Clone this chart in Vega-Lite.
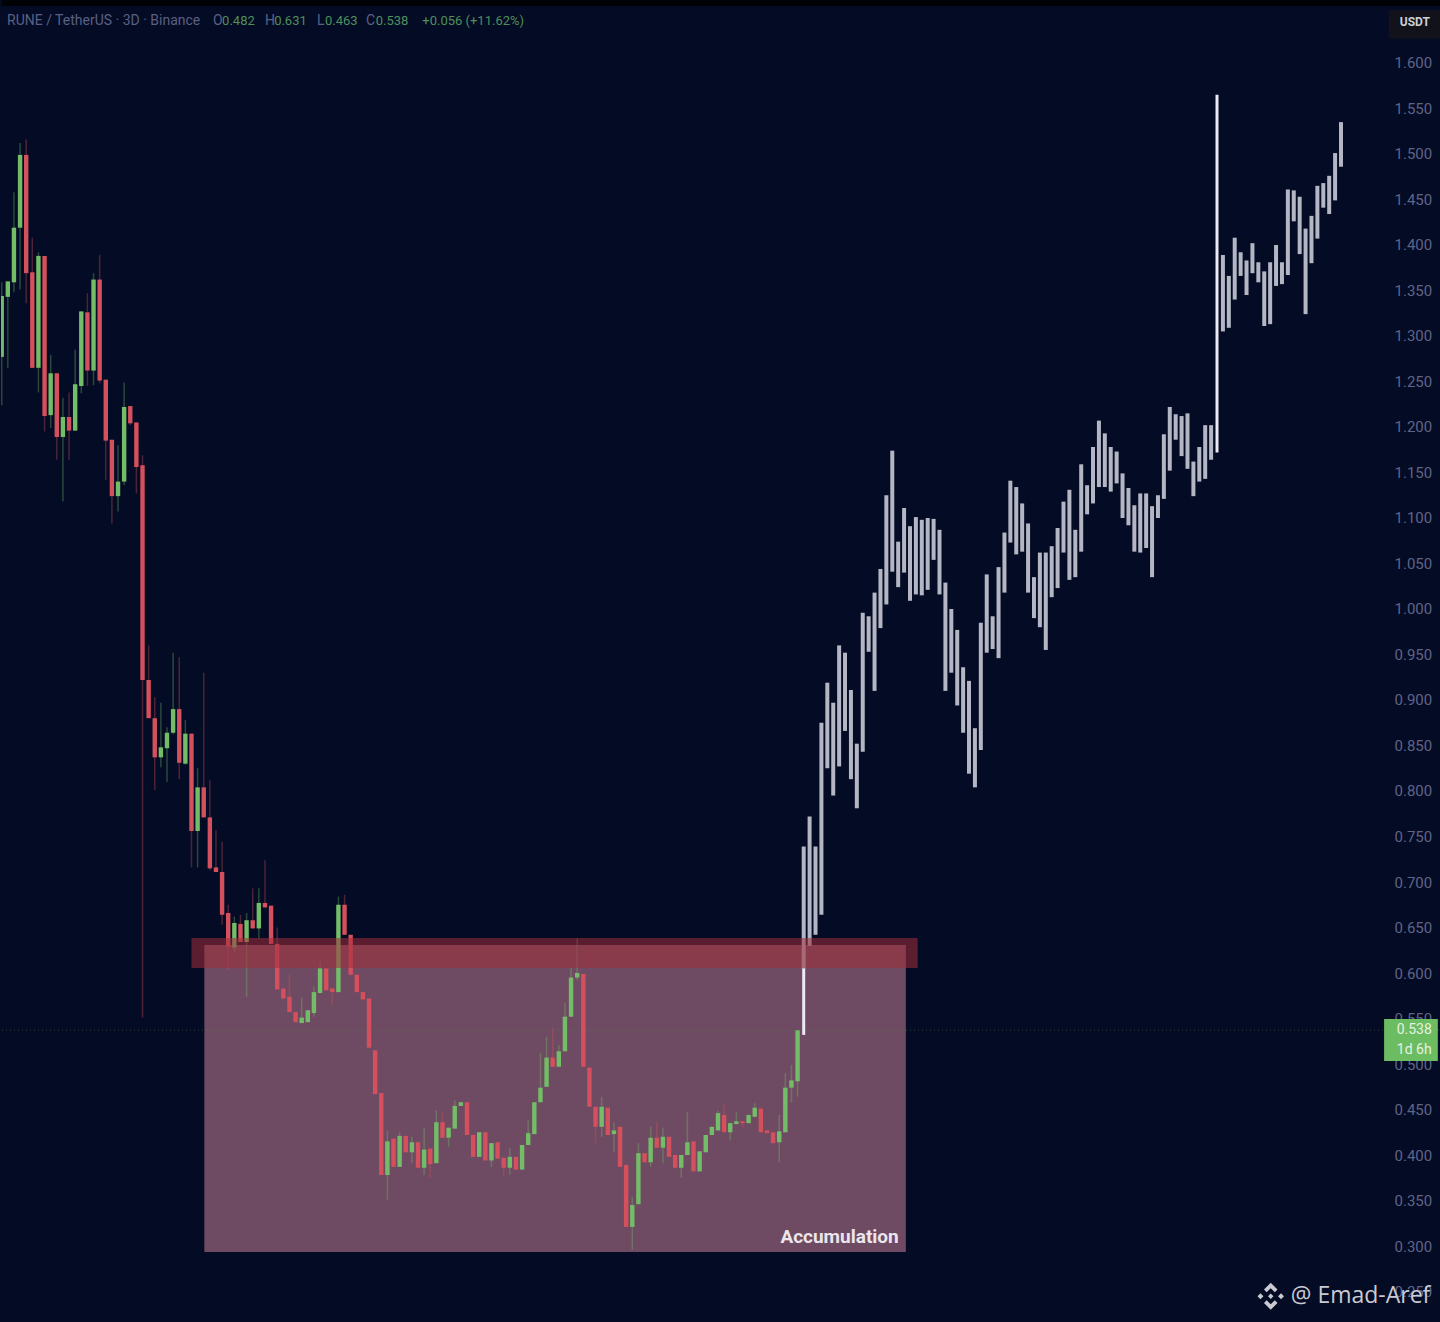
{
  "$schema": "https://vega.github.io/schema/vega-lite/v6.json",
  "width": 1440,
  "height": 1322,
  "padding": 0,
  "autosize": {"type": "fit", "contains": "padding"},
  "background": "#040b24",
  "config": {"view": {"stroke": null}},
  "resolve": {"scale": {"color": "independent", "size": "independent"}},
  "datasets": {
    "candles": [
      {"bar":0,"open":1.277,"high":1.359,"low":1.224,"close":1.344,"dir":"up"},
      {"bar":1,"open":1.343,"high":1.360,"low":1.265,"close":1.360,"dir":"up"},
      {"bar":2,"open":1.359,"high":1.458,"low":1.348,"close":1.419,"dir":"up"},
      {"bar":3,"open":1.419,"high":1.512,"low":1.351,"close":1.499,"dir":"up"},
      {"bar":4,"open":1.499,"high":1.516,"low":1.336,"close":1.369,"dir":"down"},
      {"bar":5,"open":1.370,"high":1.408,"low":1.265,"close":1.265,"dir":"down"},
      {"bar":6,"open":1.265,"high":1.392,"low":1.238,"close":1.388,"dir":"up"},
      {"bar":7,"open":1.388,"high":1.388,"low":1.195,"close":1.212,"dir":"down"},
      {"bar":8,"open":1.213,"high":1.279,"low":1.199,"close":1.259,"dir":"up"},
      {"bar":9,"open":1.259,"high":1.259,"low":1.164,"close":1.189,"dir":"down"},
      {"bar":10,"open":1.189,"high":1.232,"low":1.118,"close":1.211,"dir":"up"},
      {"bar":11,"open":1.211,"high":1.238,"low":1.164,"close":1.196,"dir":"down"},
      {"bar":12,"open":1.196,"high":1.285,"low":1.196,"close":1.247,"dir":"up"},
      {"bar":13,"open":1.245,"high":1.327,"low":1.237,"close":1.327,"dir":"up"},
      {"bar":14,"open":1.326,"high":1.347,"low":1.245,"close":1.262,"dir":"down"},
      {"bar":15,"open":1.262,"high":1.369,"low":1.246,"close":1.362,"dir":"up"},
      {"bar":16,"open":1.362,"high":1.389,"low":1.248,"close":1.251,"dir":"down"},
      {"bar":17,"open":1.252,"high":1.252,"low":1.142,"close":1.185,"dir":"down"},
      {"bar":18,"open":1.186,"high":1.186,"low":1.094,"close":1.124,"dir":"down"},
      {"bar":19,"open":1.124,"high":1.180,"low":1.107,"close":1.140,"dir":"up"},
      {"bar":20,"open":1.140,"high":1.249,"low":1.136,"close":1.222,"dir":"up"},
      {"bar":21,"open":1.223,"high":1.223,"low":1.202,"close":1.204,"dir":"down"},
      {"bar":22,"open":1.205,"high":1.205,"low":1.127,"close":1.156,"dir":"down"},
      {"bar":23,"open":1.158,"high":1.169,"low":0.551,"close":0.922,"dir":"down"},
      {"bar":24,"open":0.922,"high":0.960,"low":0.880,"close":0.880,"dir":"down"},
      {"bar":25,"open":0.880,"high":0.903,"low":0.801,"close":0.837,"dir":"down"},
      {"bar":26,"open":0.837,"high":0.897,"low":0.826,"close":0.848,"dir":"up"},
      {"bar":27,"open":0.847,"high":0.870,"low":0.810,"close":0.864,"dir":"up"},
      {"bar":28,"open":0.864,"high":0.952,"low":0.862,"close":0.890,"dir":"up"},
      {"bar":29,"open":0.890,"high":0.947,"low":0.813,"close":0.831,"dir":"down"},
      {"bar":30,"open":0.830,"high":0.878,"low":0.829,"close":0.863,"dir":"up"},
      {"bar":31,"open":0.863,"high":0.863,"low":0.716,"close":0.756,"dir":"down"},
      {"bar":32,"open":0.756,"high":0.825,"low":0.716,"close":0.804,"dir":"up"},
      {"bar":33,"open":0.804,"high":0.930,"low":0.771,"close":0.771,"dir":"down"},
      {"bar":34,"open":0.771,"high":0.812,"low":0.713,"close":0.715,"dir":"down"},
      {"bar":35,"open":0.716,"high":0.757,"low":0.711,"close":0.711,"dir":"down"},
      {"bar":36,"open":0.711,"high":0.744,"low":0.653,"close":0.664,"dir":"down"},
      {"bar":37,"open":0.666,"high":0.675,"low":0.603,"close":0.629,"dir":"down"},
      {"bar":38,"open":0.628,"high":0.662,"low":0.623,"close":0.655,"dir":"up"},
      {"bar":39,"open":0.654,"high":0.664,"low":0.634,"close":0.634,"dir":"down"},
      {"bar":40,"open":0.634,"high":0.666,"low":0.574,"close":0.658,"dir":"up"},
      {"bar":41,"open":0.658,"high":0.693,"low":0.649,"close":0.649,"dir":"down"},
      {"bar":42,"open":0.649,"high":0.693,"low":0.638,"close":0.677,"dir":"up"},
      {"bar":43,"open":0.677,"high":0.724,"low":0.672,"close":0.672,"dir":"down"},
      {"bar":44,"open":0.674,"high":0.674,"low":0.632,"close":0.632,"dir":"down"},
      {"bar":45,"open":0.632,"high":0.650,"low":0.582,"close":0.582,"dir":"down"},
      {"bar":46,"open":0.583,"high":0.583,"low":0.572,"close":0.572,"dir":"down"},
      {"bar":47,"open":0.574,"high":0.598,"low":0.557,"close":0.557,"dir":"down"},
      {"bar":48,"open":0.557,"high":0.557,"low":0.546,"close":0.546,"dir":"down"},
      {"bar":49,"open":0.545,"high":0.573,"low":0.545,"close":0.551,"dir":"up"},
      {"bar":50,"open":0.546,"high":0.559,"low":0.546,"close":0.559,"dir":"up"},
      {"bar":51,"open":0.556,"high":0.585,"low":0.552,"close":0.579,"dir":"up"},
      {"bar":52,"open":0.578,"high":0.612,"low":0.578,"close":0.605,"dir":"up"},
      {"bar":53,"open":0.605,"high":0.605,"low":0.581,"close":0.581,"dir":"down"},
      {"bar":54,"open":0.583,"high":0.583,"low":0.565,"close":0.579,"dir":"down"},
      {"bar":55,"open":0.579,"high":0.684,"low":0.579,"close":0.675,"dir":"up"},
      {"bar":56,"open":0.675,"high":0.686,"low":0.642,"close":0.642,"dir":"down"},
      {"bar":57,"open":0.642,"high":0.642,"low":0.598,"close":0.598,"dir":"down"},
      {"bar":58,"open":0.598,"high":0.598,"low":0.579,"close":0.579,"dir":"down"},
      {"bar":59,"open":0.579,"high":0.579,"low":0.571,"close":0.571,"dir":"down"},
      {"bar":60,"open":0.572,"high":0.572,"low":0.518,"close":0.518,"dir":"down"},
      {"bar":61,"open":0.515,"high":0.515,"low":0.467,"close":0.467,"dir":"down"},
      {"bar":62,"open":0.468,"high":0.468,"low":0.378,"close":0.378,"dir":"down"},
      {"bar":63,"open":0.378,"high":0.427,"low":0.351,"close":0.415,"dir":"up"},
      {"bar":64,"open":0.418,"high":0.418,"low":0.387,"close":0.387,"dir":"down"},
      {"bar":65,"open":0.387,"high":0.425,"low":0.387,"close":0.421,"dir":"up"},
      {"bar":66,"open":0.421,"high":0.421,"low":0.403,"close":0.403,"dir":"down"},
      {"bar":67,"open":0.403,"high":0.420,"low":0.391,"close":0.414,"dir":"up"},
      {"bar":68,"open":0.414,"high":0.414,"low":0.386,"close":0.386,"dir":"down"},
      {"bar":69,"open":0.386,"high":0.430,"low":0.378,"close":0.406,"dir":"up"},
      {"bar":70,"open":0.407,"high":0.407,"low":0.375,"close":0.390,"dir":"down"},
      {"bar":71,"open":0.391,"high":0.449,"low":0.391,"close":0.436,"dir":"up"},
      {"bar":72,"open":0.436,"high":0.447,"low":0.419,"close":0.419,"dir":"down"},
      {"bar":73,"open":0.419,"high":0.430,"low":0.409,"close":0.430,"dir":"up"},
      {"bar":74,"open":0.429,"high":0.460,"low":0.429,"close":0.454,"dir":"up"},
      {"bar":75,"open":0.454,"high":0.458,"low":0.454,"close":0.458,"dir":"up"},
      {"bar":76,"open":0.458,"high":0.458,"low":0.422,"close":0.422,"dir":"down"},
      {"bar":77,"open":0.422,"high":0.422,"low":0.398,"close":0.398,"dir":"down"},
      {"bar":78,"open":0.398,"high":0.425,"low":0.398,"close":0.425,"dir":"up"},
      {"bar":79,"open":0.425,"high":0.425,"low":0.394,"close":0.394,"dir":"down"},
      {"bar":80,"open":0.394,"high":0.413,"low":0.387,"close":0.413,"dir":"up"},
      {"bar":81,"open":0.414,"high":0.414,"low":0.396,"close":0.396,"dir":"down"},
      {"bar":82,"open":0.397,"high":0.397,"low":0.376,"close":0.386,"dir":"down"},
      {"bar":83,"open":0.386,"high":0.408,"low":0.378,"close":0.398,"dir":"up"},
      {"bar":84,"open":0.398,"high":0.398,"low":0.384,"close":0.384,"dir":"down"},
      {"bar":85,"open":0.384,"high":0.411,"low":0.384,"close":0.411,"dir":"up"},
      {"bar":86,"open":0.411,"high":0.438,"low":0.411,"close":0.424,"dir":"up"},
      {"bar":87,"open":0.423,"high":0.458,"low":0.423,"close":0.458,"dir":"up"},
      {"bar":88,"open":0.458,"high":0.512,"low":0.458,"close":0.474,"dir":"up"},
      {"bar":89,"open":0.475,"high":0.530,"low":0.475,"close":0.507,"dir":"up"},
      {"bar":90,"open":0.507,"high":0.540,"low":0.497,"close":0.497,"dir":"down"},
      {"bar":91,"open":0.497,"high":0.521,"low":0.497,"close":0.514,"dir":"up"},
      {"bar":92,"open":0.514,"high":0.567,"low":0.514,"close":0.552,"dir":"up"},
      {"bar":93,"open":0.552,"high":0.606,"low":0.552,"close":0.595,"dir":"up"},
      {"bar":94,"open":0.595,"high":0.638,"low":0.592,"close":0.600,"dir":"up"},
      {"bar":95,"open":0.599,"high":0.599,"low":0.497,"close":0.497,"dir":"down"},
      {"bar":96,"open":0.496,"high":0.496,"low":0.453,"close":0.453,"dir":"down"},
      {"bar":97,"open":0.453,"high":0.453,"low":0.413,"close":0.431,"dir":"down"},
      {"bar":98,"open":0.431,"high":0.464,"low":0.420,"close":0.453,"dir":"up"},
      {"bar":99,"open":0.452,"high":0.452,"low":0.422,"close":0.422,"dir":"down"},
      {"bar":100,"open":0.423,"high":0.436,"low":0.403,"close":0.427,"dir":"up"},
      {"bar":101,"open":0.431,"high":0.431,"low":0.387,"close":0.387,"dir":"down"},
      {"bar":102,"open":0.389,"high":0.389,"low":0.321,"close":0.321,"dir":"down"},
      {"bar":103,"open":0.321,"high":0.354,"low":0.296,"close":0.345,"dir":"up"},
      {"bar":104,"open":0.346,"high":0.413,"low":0.346,"close":0.402,"dir":"up"},
      {"bar":105,"open":0.402,"high":0.402,"low":0.392,"close":0.392,"dir":"down"},
      {"bar":106,"open":0.392,"high":0.431,"low":0.387,"close":0.419,"dir":"up"},
      {"bar":107,"open":0.419,"high":0.436,"low":0.408,"close":0.408,"dir":"down"},
      {"bar":108,"open":0.408,"high":0.430,"low":0.391,"close":0.420,"dir":"up"},
      {"bar":109,"open":0.420,"high":0.420,"low":0.398,"close":0.398,"dir":"down"},
      {"bar":110,"open":0.400,"high":0.400,"low":0.386,"close":0.386,"dir":"down"},
      {"bar":111,"open":0.386,"high":0.400,"low":0.375,"close":0.400,"dir":"up"},
      {"bar":112,"open":0.400,"high":0.447,"low":0.400,"close":0.414,"dir":"up"},
      {"bar":113,"open":0.415,"high":0.415,"low":0.382,"close":0.382,"dir":"down"},
      {"bar":114,"open":0.382,"high":0.404,"low":0.382,"close":0.404,"dir":"up"},
      {"bar":115,"open":0.403,"high":0.422,"low":0.403,"close":0.422,"dir":"up"},
      {"bar":116,"open":0.422,"high":0.431,"low":0.422,"close":0.431,"dir":"up"},
      {"bar":117,"open":0.427,"high":0.449,"low":0.427,"close":0.446,"dir":"up"},
      {"bar":118,"open":0.444,"high":0.457,"low":0.425,"close":0.425,"dir":"down"},
      {"bar":119,"open":0.425,"high":0.435,"low":0.416,"close":0.435,"dir":"up"},
      {"bar":120,"open":0.434,"high":0.447,"low":0.434,"close":0.437,"dir":"up"},
      {"bar":121,"open":0.437,"high":0.437,"low":0.430,"close":0.435,"dir":"down"},
      {"bar":122,"open":0.435,"high":0.444,"low":0.435,"close":0.444,"dir":"up"},
      {"bar":123,"open":0.442,"high":0.457,"low":0.442,"close":0.452,"dir":"up"},
      {"bar":124,"open":0.451,"high":0.451,"low":0.425,"close":0.425,"dir":"down"},
      {"bar":125,"open":0.427,"high":0.427,"low":0.424,"close":0.424,"dir":"down"},
      {"bar":126,"open":0.425,"high":0.425,"low":0.413,"close":0.413,"dir":"down"},
      {"bar":127,"open":0.414,"high":0.444,"low":0.392,"close":0.426,"dir":"up"},
      {"bar":128,"open":0.425,"high":0.490,"low":0.425,"close":0.474,"dir":"up"},
      {"bar":129,"open":0.474,"high":0.499,"low":0.458,"close":0.482,"dir":"up"},
      {"bar":130,"open":0.481,"high":0.537,"low":0.464,"close":0.537,"dir":"up"}
    ],
    "projection": [
      {"bar":131,"low":0.605,"high":0.739,"kind":"plain"},
      {"bar":131,"low":0.532,"high":0.605,"kind":"bright"},
      {"bar":132,"low":0.630,"high":0.772,"kind":"plain"},
      {"bar":133,"low":0.642,"high":0.739,"kind":"plain"},
      {"bar":134,"low":0.664,"high":0.875,"kind":"plain"},
      {"bar":135,"low":0.825,"high":0.919,"kind":"plain"},
      {"bar":136,"low":0.795,"high":0.897,"kind":"plain"},
      {"bar":137,"low":0.827,"high":0.960,"kind":"plain"},
      {"bar":138,"low":0.866,"high":0.952,"kind":"plain"},
      {"bar":139,"low":0.813,"high":0.911,"kind":"plain"},
      {"bar":140,"low":0.781,"high":0.852,"kind":"plain"},
      {"bar":141,"low":0.843,"high":0.996,"kind":"plain"},
      {"bar":142,"low":0.953,"high":0.992,"kind":"plain"},
      {"bar":143,"low":0.910,"high":1.018,"kind":"plain"},
      {"bar":144,"low":0.979,"high":1.044,"kind":"plain"},
      {"bar":145,"low":1.005,"high":1.125,"kind":"plain"},
      {"bar":146,"low":1.041,"high":1.174,"kind":"plain"},
      {"bar":147,"low":1.024,"high":1.074,"kind":"plain"},
      {"bar":148,"low":1.040,"high":1.111,"kind":"plain"},
      {"bar":149,"low":1.009,"high":1.091,"kind":"plain"},
      {"bar":150,"low":1.016,"high":1.101,"kind":"plain"},
      {"bar":151,"low":1.015,"high":1.098,"kind":"plain"},
      {"bar":152,"low":1.021,"high":1.100,"kind":"plain"},
      {"bar":153,"low":1.054,"high":1.099,"kind":"plain"},
      {"bar":154,"low":1.016,"high":1.087,"kind":"plain"},
      {"bar":155,"low":0.910,"high":1.029,"kind":"plain"},
      {"bar":156,"low":0.930,"high":1.000,"kind":"plain"},
      {"bar":157,"low":0.894,"high":0.977,"kind":"plain"},
      {"bar":158,"low":0.864,"high":0.936,"kind":"plain"},
      {"bar":159,"low":0.819,"high":0.921,"kind":"plain"},
      {"bar":160,"low":0.804,"high":0.869,"kind":"plain"},
      {"bar":161,"low":0.845,"high":0.985,"kind":"plain"},
      {"bar":162,"low":0.952,"high":1.038,"kind":"plain"},
      {"bar":163,"low":0.956,"high":0.992,"kind":"plain"},
      {"bar":164,"low":0.946,"high":1.046,"kind":"plain"},
      {"bar":165,"low":1.018,"high":1.084,"kind":"plain"},
      {"bar":166,"low":1.073,"high":1.141,"kind":"plain"},
      {"bar":167,"low":1.060,"high":1.134,"kind":"plain"},
      {"bar":168,"low":1.063,"high":1.116,"kind":"plain"},
      {"bar":169,"low":1.018,"high":1.094,"kind":"plain"},
      {"bar":170,"low":0.990,"high":1.035,"kind":"plain"},
      {"bar":171,"low":0.980,"high":1.062,"kind":"plain"},
      {"bar":172,"low":0.955,"high":1.062,"kind":"plain"},
      {"bar":173,"low":1.013,"high":1.069,"kind":"plain"},
      {"bar":174,"low":1.023,"high":1.089,"kind":"plain"},
      {"bar":175,"low":1.062,"high":1.118,"kind":"plain"},
      {"bar":176,"low":1.032,"high":1.131,"kind":"plain"},
      {"bar":177,"low":1.035,"high":1.087,"kind":"plain"},
      {"bar":178,"low":1.063,"high":1.159,"kind":"plain"},
      {"bar":179,"low":1.104,"high":1.136,"kind":"plain"},
      {"bar":180,"low":1.116,"high":1.178,"kind":"plain"},
      {"bar":181,"low":1.134,"high":1.207,"kind":"plain"},
      {"bar":182,"low":1.134,"high":1.193,"kind":"plain"},
      {"bar":183,"low":1.129,"high":1.178,"kind":"plain"},
      {"bar":184,"low":1.138,"high":1.173,"kind":"plain"},
      {"bar":185,"low":1.100,"high":1.149,"kind":"plain"},
      {"bar":186,"low":1.092,"high":1.133,"kind":"plain"},
      {"bar":187,"low":1.063,"high":1.114,"kind":"plain"},
      {"bar":188,"low":1.062,"high":1.127,"kind":"plain"},
      {"bar":189,"low":1.067,"high":1.127,"kind":"plain"},
      {"bar":190,"low":1.035,"high":1.113,"kind":"plain"},
      {"bar":191,"low":1.100,"high":1.125,"kind":"plain"},
      {"bar":192,"low":1.121,"high":1.192,"kind":"plain"},
      {"bar":193,"low":1.152,"high":1.222,"kind":"plain"},
      {"bar":194,"low":1.186,"high":1.214,"kind":"plain"},
      {"bar":195,"low":1.168,"high":1.212,"kind":"plain"},
      {"bar":196,"low":1.154,"high":1.215,"kind":"plain"},
      {"bar":197,"low":1.124,"high":1.162,"kind":"plain"},
      {"bar":198,"low":1.140,"high":1.178,"kind":"plain"},
      {"bar":199,"low":1.143,"high":1.202,"kind":"plain"},
      {"bar":200,"low":1.164,"high":1.202,"kind":"plain"},
      {"bar":201,"low":1.172,"high":1.565,"kind":"bright"},
      {"bar":202,"low":1.305,"high":1.389,"kind":"plain"},
      {"bar":203,"low":1.309,"high":1.366,"kind":"plain"},
      {"bar":204,"low":1.340,"high":1.408,"kind":"plain"},
      {"bar":205,"low":1.366,"high":1.392,"kind":"plain"},
      {"bar":206,"low":1.345,"high":1.383,"kind":"plain"},
      {"bar":207,"low":1.369,"high":1.402,"kind":"plain"},
      {"bar":208,"low":1.359,"high":1.381,"kind":"plain"},
      {"bar":209,"low":1.311,"high":1.371,"kind":"plain"},
      {"bar":210,"low":1.313,"high":1.381,"kind":"plain"},
      {"bar":211,"low":1.355,"high":1.400,"kind":"plain"},
      {"bar":212,"low":1.357,"high":1.381,"kind":"plain"},
      {"bar":213,"low":1.367,"high":1.461,"kind":"plain"},
      {"bar":214,"low":1.426,"high":1.460,"kind":"plain"},
      {"bar":215,"low":1.390,"high":1.453,"kind":"plain"},
      {"bar":216,"low":1.324,"high":1.418,"kind":"plain"},
      {"bar":217,"low":1.380,"high":1.432,"kind":"plain"},
      {"bar":218,"low":1.407,"high":1.465,"kind":"plain"},
      {"bar":219,"low":1.441,"high":1.468,"kind":"plain"},
      {"bar":220,"low":1.434,"high":1.476,"kind":"plain"},
      {"bar":221,"low":1.449,"high":1.501,"kind":"plain"},
      {"bar":222,"low":1.486,"high":1.535,"kind":"plain"}
    ],
    "zones": [
      {"zone":"accumulation","start":33.1,"end":148.3,"bottom":0.2934,"top":0.6307},
      {"zone":"resistance","start":31,"end":150.3,"bottom":0.6055,"top":0.6385}
    ],
    "chrome": [
      {"part":"strip","start":0,"end":238.9,"bottom":1.6626,"top":1.6692},
      {"part":"unit","start":230.1,"end":238.9,"bottom":1.627,"top":1.658},
      {"part":"price","start":229.3,"end":238.4,"bottom":0.5033,"top":0.5494}
    ],
    "labels": [
      {"role":"header","tone":"muted","bar":0.87,"price":1.646,"label":"RUNE / TetherUS · 3D · Binance"},
      {"role":"header","tone":"muted","bar":34.5,"price":1.646,"label":"O"},
      {"role":"header","tone":"value","bar":36,"price":1.646,"label":"0.482"},
      {"role":"header","tone":"muted","bar":43,"price":1.646,"label":"H"},
      {"role":"header","tone":"value","bar":44.5,"price":1.646,"label":"0.631"},
      {"role":"header","tone":"muted","bar":51.5,"price":1.646,"label":"L"},
      {"role":"header","tone":"value","bar":52.8,"price":1.646,"label":"0.463"},
      {"role":"header","tone":"muted","bar":59.5,"price":1.646,"label":"C"},
      {"role":"header","tone":"value","bar":61.1,"price":1.646,"label":"0.538"},
      {"role":"header","tone":"value","bar":68.7,"price":1.646,"label":"+0.056 (+11.62%)"},
      {"role":"zone","bar":147.1,"price":0.310,"label":"Accumulation"},
      {"role":"unit","bar":234.5,"price":1.645,"label":"USDT"},
      {"role":"tag","bar":234.4,"price":0.5373,"label":"0.538"},
      {"role":"tag","bar":234.4,"price":0.5154,"label":"1d 6h"},
      {"role":"mark","bar":213.5,"price":0.2448,"label":"@ Emad-Aref"}
    ],
    "logo": [{"bar":210.1,"price":0.2448}]
  },
  "layer": [
    {
      "data": {"name": "zones"},
      "transform": [{"filter": "datum.zone === 'accumulation'"}],
      "mark": {"type": "rect", "color": "#6f4b63"},
      "encoding": {
        "x": {"field": "start", "type": "quantitative", "axis": null, "scale": {"domain": [0, 131, 222], "range": [0.7, 802.7, 1340], "nice": false, "zero": false}},
        "x2": {"field": "end"},
        "y": {
          "field": "bottom",
          "type": "quantitative",
          "scale": {"domain": [0.2165, 1.6692], "nice": false, "zero": false},
          "axis": {
            "orient": "right",
            "offset": -45,
            "title": null,
            "domain": false,
            "ticks": false,
            "grid": false,
            "labels": true,
            "values": [0.25, 0.3, 0.35, 0.4, 0.45, 0.5, 0.55, 0.6, 0.65, 0.7, 0.75, 0.8, 0.85, 0.9, 0.95, 1, 1.05, 1.1, 1.15, 1.2, 1.25, 1.3, 1.35, 1.4, 1.45, 1.5, 1.55, 1.6],
            "format": ".3f",
            "labelColor": "#5f6488",
            "labelFont": "Roboto",
            "labelFontSize": 15,
            "labelPadding": 0,
            "labelOverlap": false
          }
        },
        "y2": {"field": "top"}
      }
    },
    {
      "data": {"values": [{"last": 0.5373}]},
      "mark": {"type": "rule", "color": "#5f8f63", "opacity": 0.45, "strokeDash": [1, 3], "strokeWidth": 1},
      "encoding": {
        "y": {"field": "last", "type": "quantitative", "scale": {"domain": [0.2165, 1.6692], "nice": false, "zero": false}}
      }
    },
    {
      "data": {"name": "candles"},
      "mark": {"type": "rule", "strokeWidth": 1.5, "opacity": 0.35, "clip": true},
      "encoding": {
        "x": {"field": "bar", "type": "quantitative", "axis": null, "scale": {"domain": [0, 131, 222], "range": [0.7, 802.7, 1340], "nice": false, "zero": false}},
        "y": {"field": "low", "type": "quantitative", "scale": {"domain": [0.2165, 1.6692], "nice": false, "zero": false}},
        "y2": {"field": "high"},
        "color": {"field": "dir", "type": "nominal", "legend": null, "scale": {"domain": ["up", "down"], "range": ["#74bd68", "#d4505c"]}}
      }
    },
    {
      "data": {"name": "candles"},
      "mark": {"type": "rule", "strokeWidth": 4.4, "clip": true},
      "encoding": {
        "x": {"field": "bar", "type": "quantitative", "axis": null, "scale": {"domain": [0, 131, 222], "range": [0.7, 802.7, 1340], "nice": false, "zero": false}},
        "y": {"field": "open", "type": "quantitative", "scale": {"domain": [0.2165, 1.6692], "nice": false, "zero": false}},
        "y2": {"field": "close"},
        "color": {"field": "dir", "type": "nominal", "legend": null, "scale": {"domain": ["up", "down"], "range": ["#74bd68", "#d4505c"]}}
      }
    },
    {
      "data": {"name": "projection"},
      "transform": [{"filter": "datum.kind === 'plain'"}],
      "mark": {"type": "rule", "strokeWidth": 4, "color": "#b4b6c4"},
      "encoding": {
        "x": {"field": "bar", "type": "quantitative", "axis": null, "scale": {"domain": [0, 131, 222], "range": [0.7, 802.7, 1340], "nice": false, "zero": false}},
        "y": {"field": "low", "type": "quantitative", "scale": {"domain": [0.2165, 1.6692], "nice": false, "zero": false}},
        "y2": {"field": "high"}
      }
    },
    {
      "data": {"name": "projection"},
      "transform": [{"filter": "datum.kind === 'bright'"}],
      "mark": {"type": "rule", "strokeWidth": 3, "color": "#eceaf2"},
      "encoding": {
        "x": {"field": "bar", "type": "quantitative", "axis": null, "scale": {"domain": [0, 131, 222], "range": [0.7, 802.7, 1340], "nice": false, "zero": false}},
        "y": {"field": "low", "type": "quantitative", "scale": {"domain": [0.2165, 1.6692], "nice": false, "zero": false}},
        "y2": {"field": "high"}
      }
    },
    {
      "data": {"name": "zones"},
      "transform": [{"filter": "datum.zone === 'resistance'"}],
      "mark": {"type": "rect", "color": "#9f2f3b", "opacity": 0.56},
      "encoding": {
        "x": {"field": "start", "type": "quantitative", "axis": null, "scale": {"domain": [0, 131, 222], "range": [0.7, 802.7, 1340], "nice": false, "zero": false}},
        "x2": {"field": "end"},
        "y": {"field": "bottom", "type": "quantitative", "scale": {"domain": [0.2165, 1.6692], "nice": false, "zero": false}},
        "y2": {"field": "top"}
      }
    },
    {
      "data": {"name": "chrome"},
      "mark": {"type": "rect"},
      "encoding": {
        "x": {"field": "start", "type": "quantitative", "axis": null, "scale": {"domain": [0, 131, 222], "range": [0.7, 802.7, 1340], "nice": false, "zero": false}},
        "x2": {"field": "end"},
        "y": {"field": "bottom", "type": "quantitative", "scale": {"domain": [0.2165, 1.6692], "nice": false, "zero": false}},
        "y2": {"field": "top"},
        "color": {"field": "part", "type": "nominal", "legend": null, "scale": {"domain": ["strip", "unit", "price"], "range": ["#010205", "#12131a", "#6cbc62"]}}
      }
    },
    {
      "data": {"name": "labels"},
      "transform": [{"filter": "datum.role === 'header'"}],
      "mark": {"type": "text", "align": "left", "baseline": "middle", "font": "Roboto"},
      "encoding": {
        "x": {"field": "bar", "type": "quantitative", "axis": null, "scale": {"domain": [0, 131, 222], "range": [0.7, 802.7, 1340], "nice": false, "zero": false}},
        "y": {"field": "price", "type": "quantitative", "scale": {"domain": [0.2165, 1.6692], "nice": false, "zero": false}},
        "text": {"field": "label"},
        "size": {"field": "tone", "type": "nominal", "legend": null, "scale": {"domain": ["muted", "value"], "range": [14, 13]}},
        "color": {"field": "tone", "type": "nominal", "legend": null, "scale": {"domain": ["muted", "value"], "range": ["#5a6084", "#4f8f5c"]}}
      }
    },
    {
      "data": {"name": "labels"},
      "transform": [{"filter": "datum.role === 'zone'"}],
      "mark": {"type": "text", "align": "right", "baseline": "middle", "font": "Roboto", "fontSize": 19, "fontWeight": "bold", "color": "#ece6ec"},
      "encoding": {
        "x": {"field": "bar", "type": "quantitative", "axis": null, "scale": {"domain": [0, 131, 222], "range": [0.7, 802.7, 1340], "nice": false, "zero": false}},
        "y": {"field": "price", "type": "quantitative", "scale": {"domain": [0.2165, 1.6692], "nice": false, "zero": false}},
        "text": {"field": "label"}
      }
    },
    {
      "data": {"name": "labels"},
      "transform": [{"filter": "datum.role === 'unit'"}],
      "mark": {"type": "text", "align": "center", "baseline": "middle", "font": "Roboto", "fontSize": 12, "fontWeight": "bold", "color": "#cfd0d6"},
      "encoding": {
        "x": {"field": "bar", "type": "quantitative", "axis": null, "scale": {"domain": [0, 131, 222], "range": [0.7, 802.7, 1340], "nice": false, "zero": false}},
        "y": {"field": "price", "type": "quantitative", "scale": {"domain": [0.2165, 1.6692], "nice": false, "zero": false}},
        "text": {"field": "label"}
      }
    },
    {
      "data": {"name": "labels"},
      "transform": [{"filter": "datum.role === 'tag'"}],
      "mark": {"type": "text", "align": "center", "baseline": "middle", "font": "Roboto", "fontSize": 14, "color": "#e4f2e1"},
      "encoding": {
        "x": {"field": "bar", "type": "quantitative", "axis": null, "scale": {"domain": [0, 131, 222], "range": [0.7, 802.7, 1340], "nice": false, "zero": false}},
        "y": {"field": "price", "type": "quantitative", "scale": {"domain": [0.2165, 1.6692], "nice": false, "zero": false}},
        "text": {"field": "label"}
      }
    },
    {
      "data": {"name": "labels"},
      "transform": [{"filter": "datum.role === 'mark'"}],
      "mark": {"type": "text", "align": "left", "baseline": "middle", "font": "Open Sans", "fontSize": 23, "color": "#c9cad2"},
      "encoding": {
        "x": {"field": "bar", "type": "quantitative", "axis": null, "scale": {"domain": [0, 131, 222], "range": [0.7, 802.7, 1340], "nice": false, "zero": false}},
        "y": {"field": "price", "type": "quantitative", "scale": {"domain": [0.2165, 1.6692], "nice": false, "zero": false}},
        "text": {"field": "label"}
      }
    },
    {
      "data": {"name": "logo"},
      "mark": {
        "type": "point",
        "filled": true,
        "opacity": 1,
        "color": "#c9cad2",
        "size": 730,
        "shape": "M0 -1L0.5 -0.5L0.3 -0.3L0 -0.6L-0.3 -0.3L-0.5 -0.5ZM0 1L0.5 0.5L0.3 0.3L0 0.6L-0.3 0.3L-0.5 0.5ZM0 -0.2L0.2 0L0 0.2L-0.2 0ZM-0.98 0L-0.76 -0.22L-0.54 0L-0.76 0.22ZM0.98 0L0.76 -0.22L0.54 0L0.76 0.22Z"
      },
      "encoding": {
        "x": {"field": "bar", "type": "quantitative", "axis": null, "scale": {"domain": [0, 131, 222], "range": [0.7, 802.7, 1340], "nice": false, "zero": false}},
        "y": {"field": "price", "type": "quantitative", "scale": {"domain": [0.2165, 1.6692], "nice": false, "zero": false}}
      }
    }
  ]
}
